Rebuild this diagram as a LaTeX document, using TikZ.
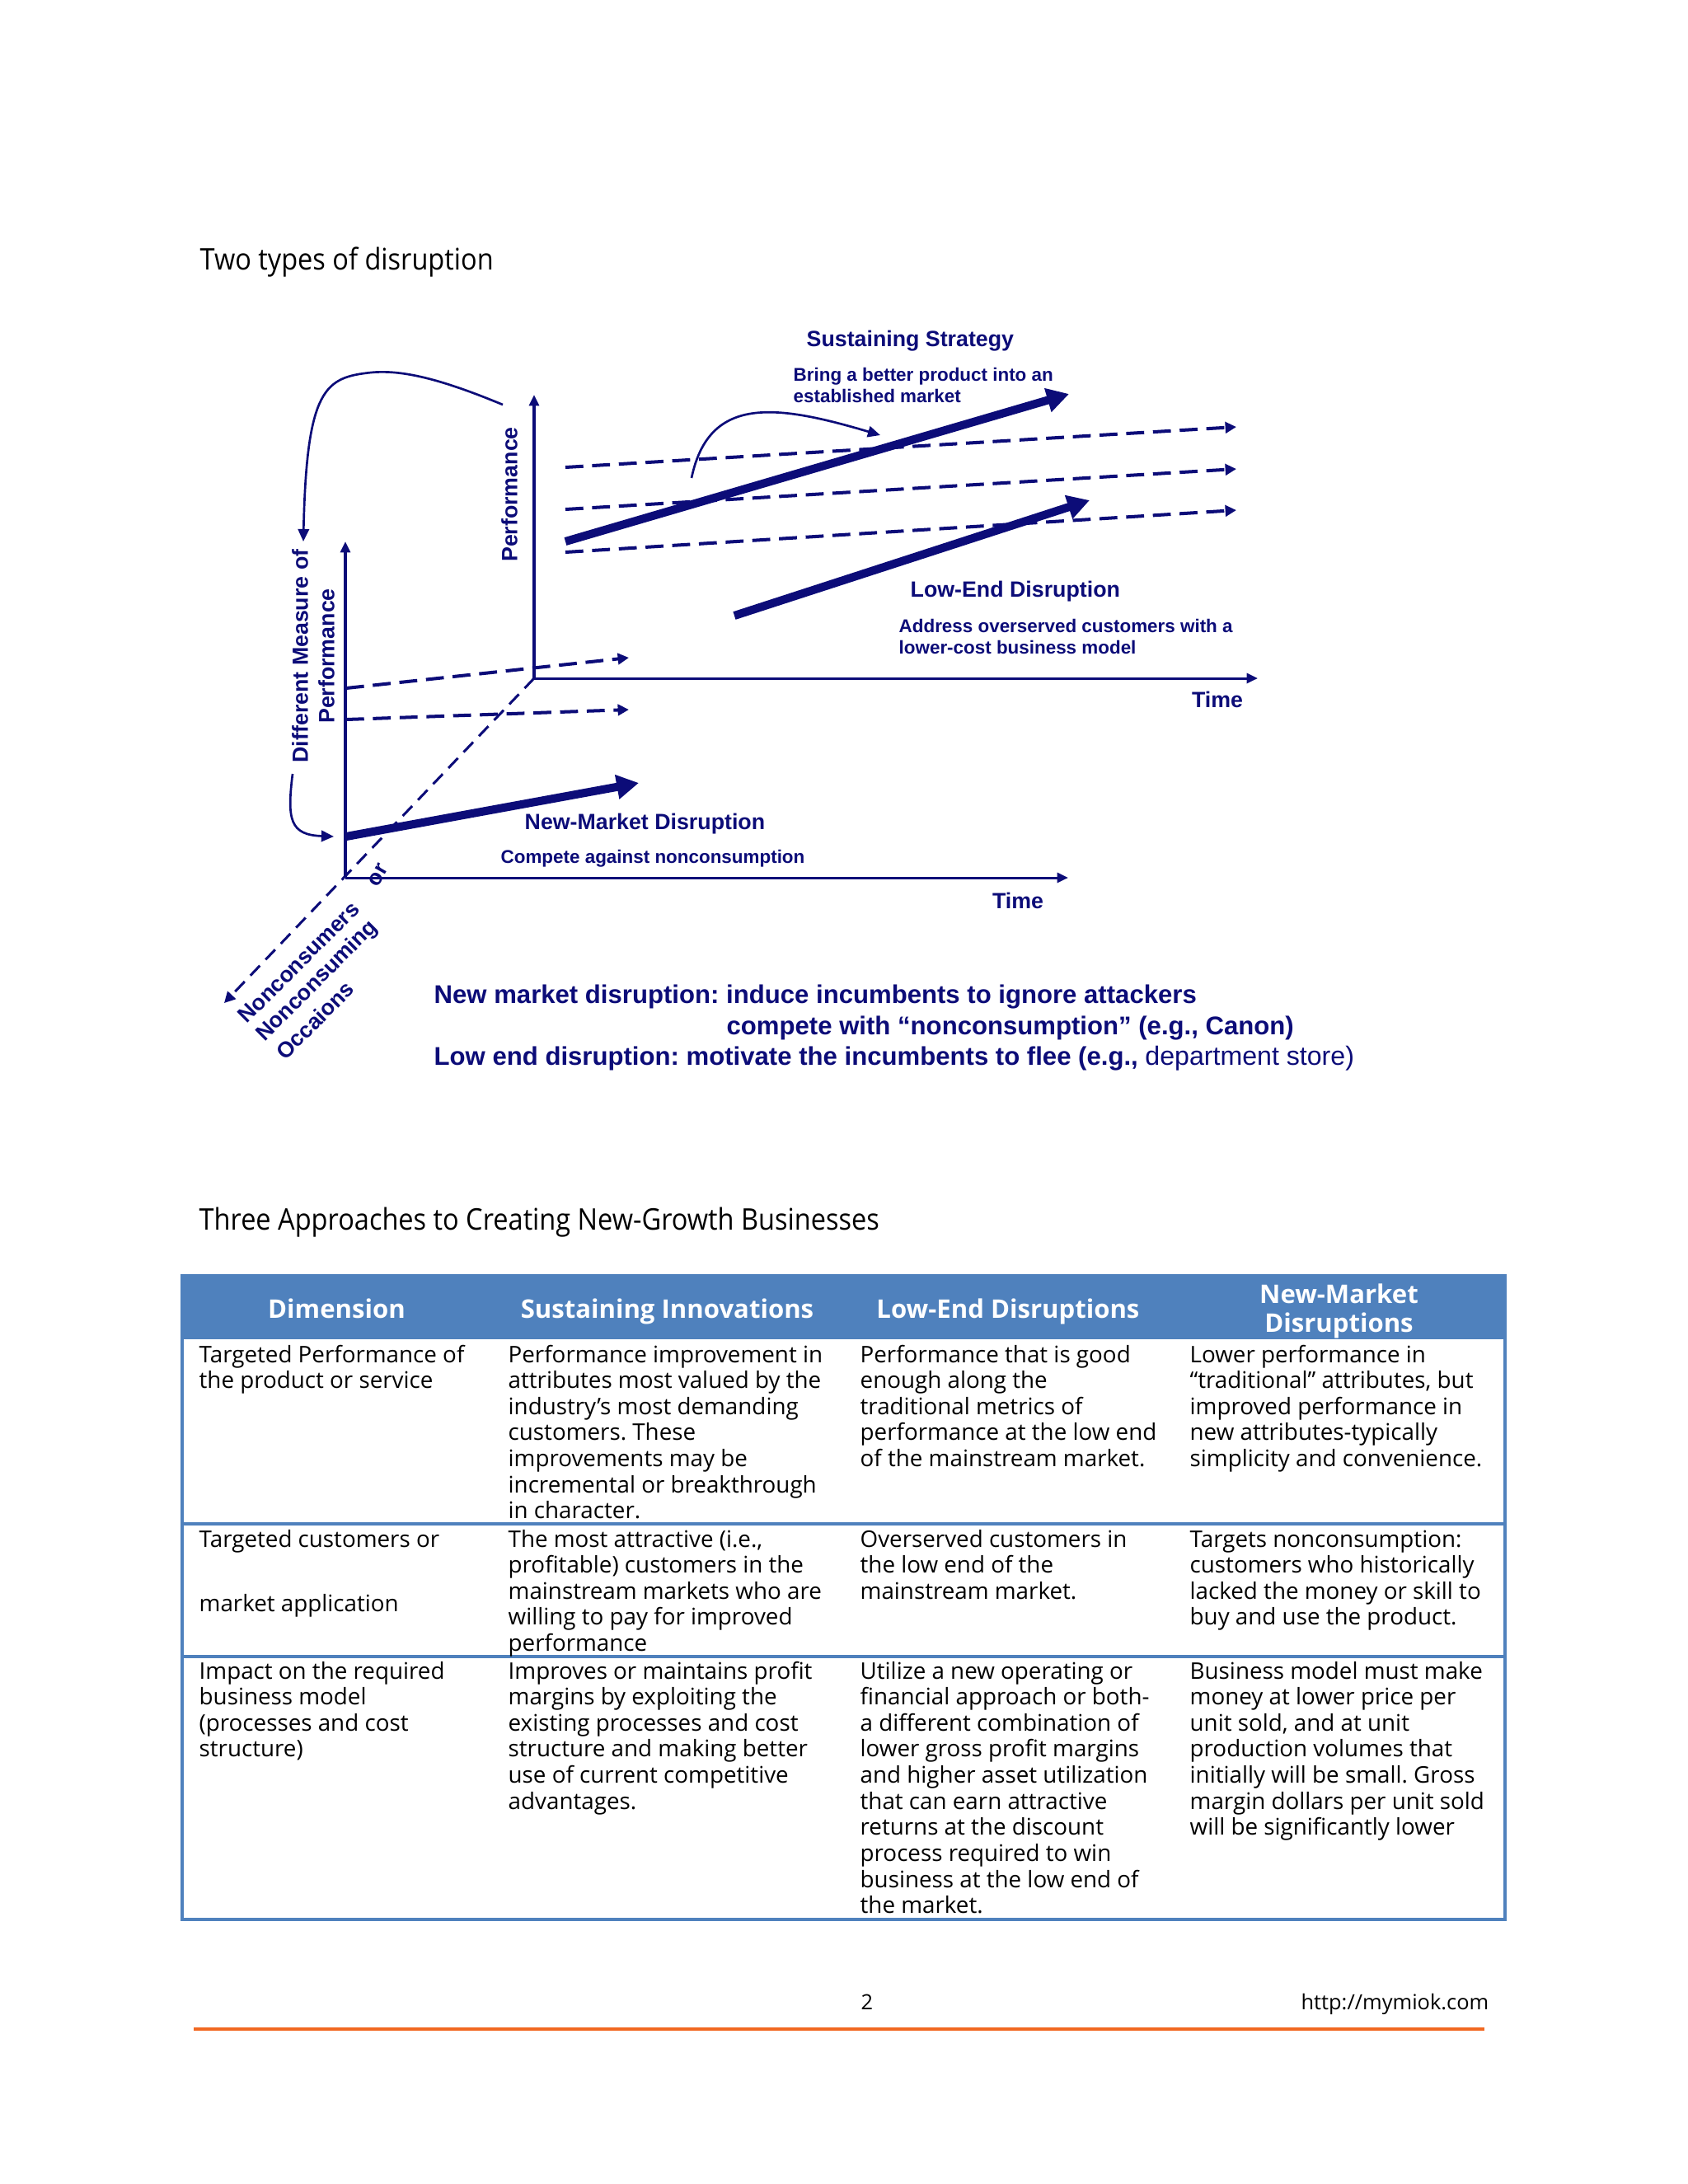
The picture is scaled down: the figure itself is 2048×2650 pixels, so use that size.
\documentclass[tikz,border=0pt]{standalone}
\usepackage{fontspec}
\usetikzlibrary{arrows.meta}
\newfontfamily\arialf{Liberation Sans}
\newfontfamily\osans{Open Sans}
\newfontfamily\osanscond[FakeStretch=0.9]{Open Sans}
\definecolor{navy}{RGB}{12,12,120}
\definecolor{hdrblue}{RGB}{79,129,189}
\definecolor{orangeln}{RGB}{241,104,33}
\frenchspacing
\newcommand\cellbox[1]{\parbox[t]{135pt}{\raggedright\osans\fontsize{8.3}{9.45}\selectfont\frenchspacing #1}}
\tikzset{
  lbl/.style={inner sep=0pt, text=navy, font={\arialf\bfseries\fontsize{8}{9.6}\selectfont}},
  sublbl/.style={inner sep=0pt, text=navy, font={\arialf\bfseries\fontsize{6.7}{8}\selectfont}},
  botlbl/.style={inner sep=0pt, text=navy, font={\arialf\bfseries\fontsize{9.3}{11}\selectfont\frenchspacing}},
  axisline/.style={draw=navy, line width=0.9pt, -{Triangle[length=4pt,width=3.6pt]}},
  thickarrow/.style={draw=navy, line width=3pt, -{Triangle[length=8pt,width=8.5pt]}},
  dasharrow/.style={draw=navy, line width=1.2pt, dash pattern=on 6.5pt off 3.2pt, -{Triangle[length=4pt,width=4pt]}},
  diagdash/.style={draw=navy, line width=0.9pt, dash pattern=on 5pt off 3pt, -{Triangle[length=4pt,width=4pt]}},
  curvearrow/.style={draw=navy, line width=0.8pt, -{Triangle[length=4.5pt,width=4pt]}},
  ttl/.style={inner sep=0pt, font={\osanscond\fontsize{10.8}{12}\selectfont}},
  hdr/.style={inner sep=0pt, text=white, font={\osans\bfseries\fontsize{9.3}{10.5}\selectfont}, align=center},
  cell/.style={inner sep=0pt, anchor=base west},
  foot/.style={inner sep=0pt, font={\osans\fontsize{7.6}{9}\selectfont}}
}
\begin{document}
\begin{tikzpicture}[x=0.298828pt,y=-0.298828pt]
\useasboundingbox (0,0) rectangle (2048,2650);
\fill[white] (0,0) rectangle (2048,2650);

% titles
\node[ttl, anchor=base west] (title1) at (242,327) {Two types of disruption};
\node[ttl, anchor=base west] (title2) at (241,1492) {Three Approaches to Creating New-Growth Businesses};

% ---------- diagram coordinates ----------
\coordinate (bo) at (648,823);    % back origin
\coordinate (btop) at (648,479);
\coordinate (bright) at (1526,823);
\coordinate (fo) at (419,1065);   % front origin
\coordinate (ftop) at (419,657);
\coordinate (fright) at (1296,1065);
\coordinate (diagend) at (272,1217);

% axes
\draw[axisline] (bo) -- (btop);
\draw[axisline] (bo) -- (bright);
\draw[axisline] (fo) -- (ftop);
\draw[axisline] (fo) -- (fright);
\draw[diagdash] (bo) -- (diagend);

% back dashed arrows
\coordinate (d1a) at (686,567); \coordinate (d1b) at (1500,518);
\coordinate (d2a) at (686,618); \coordinate (d2b) at (1500,569);
\coordinate (d3a) at (686,670); \coordinate (d3b) at (1500,619);
\draw[dasharrow] (d1a) -- (d1b);
\draw[dasharrow] (d2a) -- (d2b);
\draw[dasharrow] (d3a) -- (d3b);

% front dashed arrows
\coordinate (f1a) at (420,835); \coordinate (f1b) at (763,798);
\coordinate (f2a) at (420,873); \coordinate (f2b) at (763,861);
\draw[dasharrow] (f1a) -- (f1b);
\draw[dasharrow] (f2a) -- (f2b);

% thick arrows
\coordinate (sa) at (686,657); \coordinate (sb) at (1297,478);
\coordinate (la) at (891,747); \coordinate (lb) at (1322,607);
\coordinate (na) at (420,1015); \coordinate (nb) at (775,950);
\draw[thickarrow] (sa) -- (sb);
\draw[thickarrow] (la) -- (lb);
\draw[thickarrow] (na) -- (nb);

% curved arrows
\coordinate (c1a) at (610,491); \coordinate (c1m) at (450,452); \coordinate (c1b) at (368,657);
\draw[curvearrow] (c1a) .. controls (540,462) and (490,448) .. (c1m) .. controls (395,458) and (372,470) .. (c1b);
\coordinate (c2a) at (355,939); \coordinate (c2b) at (405,1015);
\draw[curvearrow] (c2a) .. controls (348,995) and (352,1013) .. (c2b);
\coordinate (c3a) at (839,580); \coordinate (c3b) at (1068,528);
\draw[curvearrow] (c3a) .. controls (860,480) and (940,490) .. (c3b);

% diagram labels
\node[lbl, anchor=base west] (sust) at (978,420) {Sustaining Strategy};
\node[sublbl, anchor=base west] (sustsub1) at (962,462) {Bring a better product into an};
\node[sublbl, anchor=base west] (sustsub2) at (962,488) {established market};
\node[lbl, anchor=base west] (lowend) at (1104,724) {Low-End Disruption};
\node[sublbl, anchor=base west] (lowsub1) at (1090,767) {Address overserved customers with a};
\node[sublbl, anchor=base west] (lowsub2) at (1090,793) {lower-cost business model};
\node[lbl, anchor=base] (time1) at (1477,858) {Time};
\node[lbl, anchor=base] (time2) at (1235,1102) {Time};
\node[lbl, anchor=base west] (newm) at (636,1006) {New-Market Disruption};
\node[sublbl, anchor=base west] (newsub) at (607,1047) {Compete against nonconsumption};
\node[lbl, rotate=90] (perf) at (618,600) {Performance};
\node[lbl, rotate=90, align=center] (diffm) at (380,796) {Different Measure of\\Performance};
\node[lbl, rotate=45, anchor=west] (noncons) at (293,1237) {Nonconsumers};
\node[lbl, rotate=45, anchor=west] (nonconsg) at (316,1260) {Nonconsuming};
\node[lbl, rotate=45, anchor=west] (occ) at (339,1281) {Occaions};
\node[lbl, rotate=60] (orlbl) at (459,1062) {or};

% bottom statements
\node[botlbl, anchor=base west] (st1) at (526,1217) {New market disruption: induce incumbents to ignore attackers};
\node[botlbl, anchor=base west] (st2) at (881,1255) {compete with “nonconsumption” (e.g., Canon)};
\node[botlbl, anchor=base west] (st3) at (526,1292) {Low end disruption: motivate the incumbents to flee (e.g., {\mdseries\fontsize{9.6}{11}\selectfont department store)}};

% ---------- table ----------
\fill[hdrblue] (221,1548) rectangle (1826,1625);
\draw[hdrblue, line width=1.2pt] (221,1548) rectangle (1826,2329);
\draw[hdrblue, line width=1.2pt] (221,1849) -- (1826,1849);
\draw[hdrblue, line width=1.2pt] (221,2010) -- (1826,2010);

\node[hdr, anchor=base] (h1) at (408.5,1599) {Dimension};
\node[hdr, anchor=base] (h2) at (809.5,1599) {Sustaining Innovations};
\node[hdr, anchor=base] (h3) at (1223,1599) {Low-End Disruptions};
\node[hdr, anchor=base] (h4a) at (1624.5,1581) {New-Market};
\node[hdr, anchor=base] (h4b) at (1624.5,1616) {Disruptions};

% row 1
\node[cell] (r1c1) at (241,1653) {\cellbox{Targeted Performance of\\the product or service}};
\node[cell] (r1c2) at (616,1653) {\cellbox{Performance improvement in\\attributes most valued by the\\industry’s most demanding\\customers. These\\improvements may be\\incremental or breakthrough\\in character.}};
\node[cell] (r1c3) at (1043,1653) {\cellbox{Performance that is good\\enough along the\\traditional metrics of\\performance at the low end\\of the mainstream market.}};
\node[cell] (r1c4) at (1443,1653) {\cellbox{Lower performance in\\“traditional” attributes, but\\improved performance in\\new attributes-typically\\simplicity and convenience.}};

% row 2
\node[cell] (r2c1a) at (241,1877) {\cellbox{Targeted customers or}};
\node[cell] (r2c1b) at (241,1955) {\cellbox{market application}};
\node[cell] (r2c2) at (616,1877) {\cellbox{The most attractive (i.e.,\\profitable) customers in the\\mainstream markets who are\\willing to pay for improved\\performance}};
\node[cell] (r2c3) at (1043,1877) {\cellbox{Overserved customers in\\the low end of the\\mainstream market.}};
\node[cell] (r2c4) at (1443,1877) {\cellbox{Targets nonconsumption:\\customers who historically\\lacked the money or skill to\\buy and use the product.}};

% row 3
\node[cell] (r3c1) at (241,2037) {\cellbox{Impact on the required\\business model\\(processes and cost\\structure)}};
\node[cell] (r3c2) at (616,2037) {\cellbox{Improves or maintains profit\\margins by exploiting the\\existing processes and cost\\structure and making better\\use of current competitive\\advantages.}};
\node[cell] (r3c3) at (1043,2037) {\cellbox{Utilize a new operating or\\financial approach or both-\\a different combination of\\lower gross profit margins\\and higher asset utilization\\that can earn attractive\\returns at the discount\\process required to win\\business at the low end of\\the market.}};
\node[cell] (r3c4) at (1443,2037) {\cellbox{Business model must make\\money at lower price per\\unit sold, and at unit\\production volumes that\\initially will be small. Gross\\margin dollars per unit sold\\will be significantly lower}};

% footer
\node[foot, anchor=base] (pgno) at (1052,2438) {2};
\node[foot, anchor=base east] (url) at (1807,2438) {http://mymiok.com};
\draw[orangeln, line width=1.2pt] (235,2462) -- (1801,2462);
\end{tikzpicture}
\end{document}
